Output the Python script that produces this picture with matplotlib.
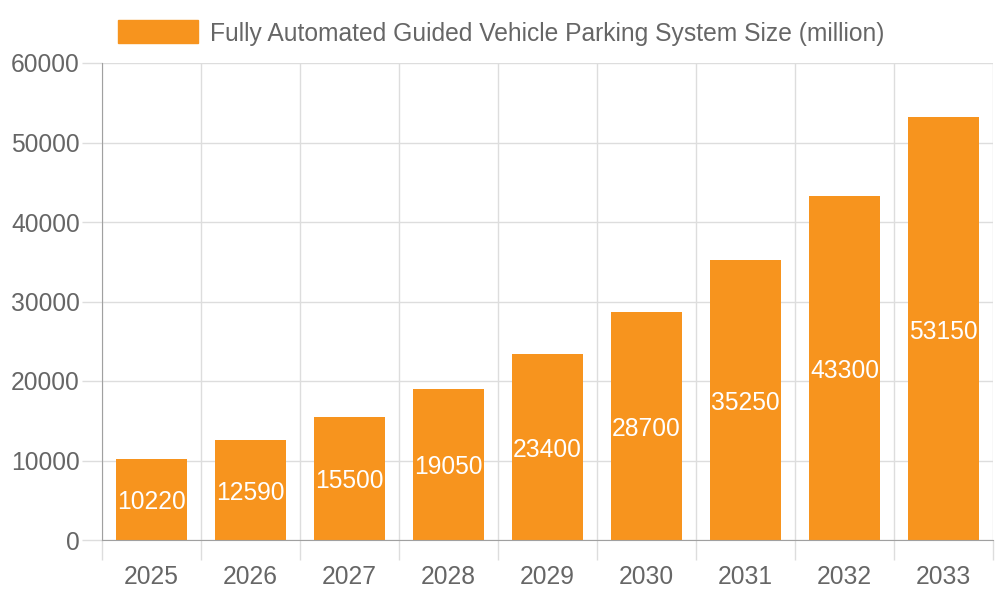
import numpy as np
import matplotlib.pyplot as plt
from matplotlib.patches import Rectangle

years = ['2025', '2026', '2027', '2028', '2029', '2030', '2031', '2032', '2033']
sizes = [10220, 12590, 15500, 19050, 23400, 28700, 35250, 43300, 53150]
series_name = 'Fully Automated Guided Vehicle Parking System Size (million)'
yticks = [0, 10000, 20000, 30000, 40000, 50000, 60000]

orange = '#F7941E'
text_grey = '#666666'
grid_grey = '#DDDDDD'
axis_grey = '#A0A0A0'
fs = 17.7

plt.rcParams['font.family'] = ['Liberation Sans', 'DejaVu Sans']

fig = plt.figure(figsize=(10, 6), dpi=100)
ax = fig.add_axes([0.102, 0.1, 0.891, 0.795])

x = np.arange(len(years))
bars = ax.bar(x, sizes, width=0.72, color=orange, zorder=3)
ax.bar_label(bars, labels=[str(v) for v in sizes], label_type='center',
             color='white', fontsize=fs, zorder=4, padding=-2)

ax.set_xlim(-0.5, len(years) - 0.5)
ax.set_ylim(0, 60000)
ax.set_yticks(yticks)
ax.set_yticklabels([str(t) for t in yticks])
ax.set_xticks(x)
ax.set_xticklabels(years)

# grid lines between categories and at y ticks
ax.set_xticks(np.arange(len(years) + 1) - 0.5, minor=True)
ax.grid(True, which='minor', axis='x', color=grid_grey, linewidth=1, zorder=0)
ax.grid(True, which='major', axis='y', color=grid_grey, linewidth=1, zorder=0)

ax.tick_params(axis='x', which='major', length=0, pad=18, labelsize=fs, labelcolor=text_grey)
ax.tick_params(axis='x', which='minor', length=14.4, color=grid_grey, width=1)
ax.tick_params(axis='y', length=14.4, color=grid_grey, width=1, pad=1.5, labelsize=fs, labelcolor=text_grey)

for side in ['top', 'right']:
    ax.spines[side].set_visible(False)
ax.spines['left'].set_color(axis_grey)
ax.spines['bottom'].set_color(axis_grey)
ax.spines['left'].set_zorder(5)
ax.spines['bottom'].set_zorder(5)

# legend at top
fig.patches.append(Rectangle((0.118, 1 - 43 / 600), 0.080, 23 / 600,
                             transform=fig.transFigure, color=orange))
fig.text(0.210, 1 - 34 / 600, series_name, color=text_grey, fontsize=fs,
         va='center', ha='left')

fig.savefig('out.png', dpi=100)
